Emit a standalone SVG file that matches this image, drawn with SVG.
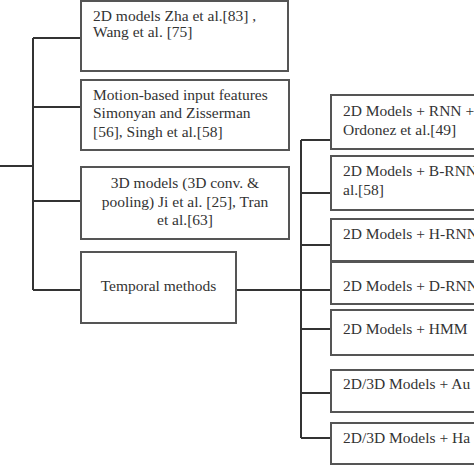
<svg xmlns="http://www.w3.org/2000/svg" width="474" height="474" viewBox="0 0 474 474">
<style>
.box{fill:#fff;stroke:#555;stroke-width:2}
.ln{fill:none;stroke:#333;stroke-width:2}
text{font-family:"Liberation Serif","Times New Roman",serif;font-size:15.5px;fill:#333}
.c{text-anchor:middle}
</style>
<rect width="474" height="474" fill="#fff"/>
<g id="connectors">
<path class="ln" d="M0 166H33M33 38V290M33 38H81M33 107H81M33 201H81M33 290H81"/>
<path class="ln" d="M236 290H331M301 140V438M301 140H331M301 193H331M301 245H331M301 329H331M301 393H331M301 438H331"/>
</g>
<g id="n1"><rect class="box" x="81" y="1" width="207" height="70"/>
<text x="93" y="21">2D models Zha et al.[83] ,</text><text x="93" y="37">Wang et al. [75]</text></g>
<g id="n2"><rect class="box" x="81" y="80" width="208" height="70"/>
<text x="93" y="100">Motion-based input features</text><text x="93" y="118">Simonyan and Zisserman</text><text x="93" y="137">[56], Singh et al.[58]</text></g>
<g id="n3"><rect class="box" x="81" y="167" width="208" height="72"/>
<text class="c" x="185" y="188">3D models (3D conv. &amp;</text><text class="c" x="185" y="207">pooling) Ji et al. [25], Tran</text><text class="c" x="185" y="225">et al.[63]</text></g>
<g id="n4"><rect class="box" x="81" y="252" width="155" height="71"/>
<text class="c" x="158.5" y="291">Temporal methods</text></g>
<g id="r1"><rect class="box" x="331" y="95" width="160" height="54"/>
<text x="343" y="116">2D Models + RNN +</text><text x="343" y="135">Ordonez et al.[49]</text></g>
<g id="r2"><rect class="box" x="331" y="156" width="160" height="54"/>
<text x="343" y="176">2D Models + B-RNN</text><text x="343" y="195">al.[58]</text></g>
<g id="r3"><rect class="box" x="331" y="219" width="160" height="42"/>
<text x="343" y="239">2D Models + H-RNN</text></g>
<g id="r4"><rect class="box" x="331" y="262" width="160" height="42"/>
<text x="343" y="291">2D Models + D-RNN</text></g>
<g id="r5"><rect class="box" x="331" y="310" width="160" height="45"/>
<text x="343" y="334">2D Models + HMM</text></g>
<g id="r6"><rect class="box" x="331" y="370" width="160" height="42"/>
<text x="343" y="389">2D/3D Models + Au</text></g>
<g id="r7"><rect class="box" x="331" y="423" width="160" height="41"/>
<text x="343" y="443">2D/3D Models + Ha</text></g>
</svg>
